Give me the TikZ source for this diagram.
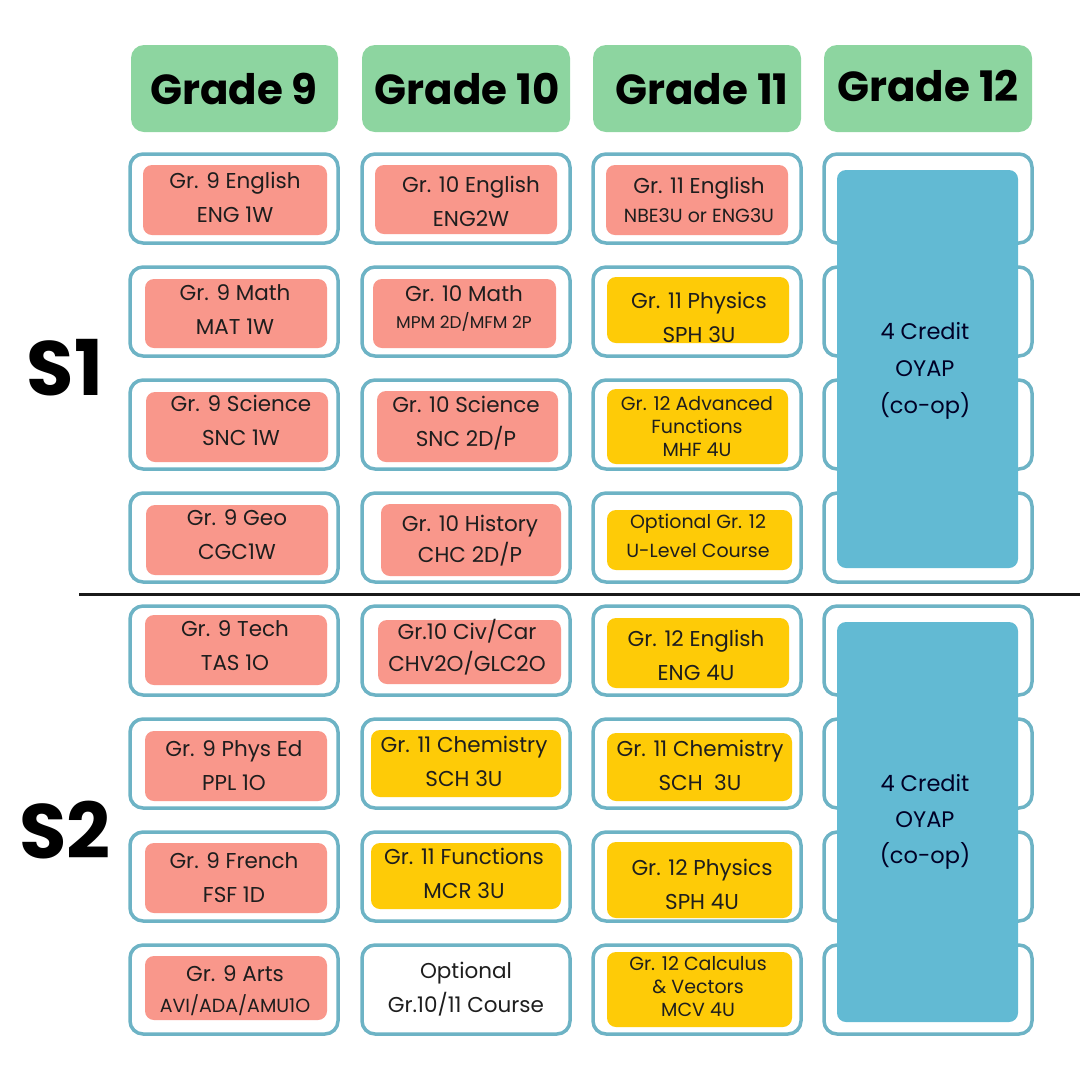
\documentclass[tikz,border=0pt]{standalone}
\usepackage{fontspec}
\setmainfont{Poppins}
\definecolor{headgreen}{HTML}{8DD5A0}
\definecolor{slotline}{HTML}{6DB3C5}
\definecolor{reqpink}{HTML}{F9978B}
\definecolor{advyellow}{HTML}{FECB07}
\definecolor{coopblue}{HTML}{62BAD3}
\definecolor{ink}{HTML}{1E1E1E}
\newcommand\coursefont{\fontsize{21.5}{34}\selectfont}
\newcommand\codefont{\fontsize{19}{26}\selectfont}
\newcommand\tinycode{\fontsize{17}{22}\selectfont}
\newcommand\threefont{\fontsize{19}{23}\selectfont}
\newcommand\headfont{\fontsize{42}{48}\selectfont\bfseries}
\newcommand\termfont{\fontsize{77}{80}\selectfont\bfseries}
\begin{document}
\begin{tikzpicture}[x=1pt, y=-1pt,
  slot/.style={draw=slotline, line width=3.5pt, fill=white, rounded corners=13pt},
  head/.style={fill=headgreen, rounded corners=13pt},
  req/.style={fill=reqpink, rounded corners=9pt},
  adv/.style={fill=advyellow, rounded corners=9pt},
  coop/.style={fill=coopblue, rounded corners=9pt},
  course/.style={align=center, font=\coursefont, text=ink, inner sep=0pt},
  three/.style={course, font=\threefont},
  headtext/.style={font=\headfont, text=black, inner sep=0pt},
  term/.style={font=\termfont, text=black, inner sep=0pt}]
\useasboundingbox (0,0) rectangle (1080,1080);

% Grade headers
\path[head] (131,45) rectangle +(207,87);
\node[headtext] (g9) at (234,89) {Grade 9};
\path[head] (362,45) rectangle +(208,87);
\node[headtext] (g10) at (467,89) {Grade 10};
\path[head] (593,45) rectangle +(208,87);
\node[headtext] (g11) at (702,89) {Grade 11};
\path[head] (824,45) rectangle +(208,87);
\node[headtext] (g12) at (928,86) {Grade 12};

% Semester labels and the line between them
\node[term] (s1) at (65,368) {S1};
\node[term] (s2) at (65,830) {S2};
\draw[line width=3pt, black!90] (79,594) -- (1080,594);

% Semester 1, row 1
\draw[slot] (130,154) rectangle +(208,89);
\path[req] (143,165) rectangle (327,235);
\node[course] (eng9) at (235,197) {Gr. 9 English\\ENG 1W};
\draw[slot] (362,154) rectangle +(208,89);
\path[req] (375,165) rectangle (557,234);
\node[course] (eng10) at (471,201) {Gr. 10 English\\ENG2W};
\draw[slot] (593,154) rectangle +(208,89);
\path[req] (606,165) rectangle (788,235);
\node[course] (eng11) at (699,200) {Gr. 11 English\\[-5pt]{\codefont NBE3U or ENG3U}};

% Semester 1, row 2
\draw[slot] (130,267) rectangle +(208,89);
\path[req] (145,279) rectangle (327,348);
\node[course] (mat9) at (235,310) {Gr. 9 Math\\MAT 1W};
\draw[slot] (362,267) rectangle +(208,89);
\path[req] (373,279) rectangle (556,348);
\node[course] (mat10) at (464,308) {Gr. 10 Math\\[-7pt]{\tinycode MPM 2D/MFM 2P}};
\draw[slot] (593,267) rectangle +(208,89);
\path[adv] (607,277) rectangle (789,343);
\node[course] (sph3) at (699,317) {Gr. 11 Physics\\SPH 3U};

% Semester 1, row 3
\draw[slot] (130,380) rectangle +(208,89);
\path[req] (146,392) rectangle (328,462);
\node[course] (snc9) at (241,420) {Gr. 9 Science\\SNC 1W};
\draw[slot] (362,380) rectangle +(208,89);
\path[req] (377,391) rectangle (558,462);
\node[course] (snc10) at (466,423) {Gr. 10 Science\\SNC 2D/P};
\draw[slot] (593,380) rectangle +(208,89);
\path[adv] (607,389) rectangle (788,464);
\node[three] (mhf4) at (697,427) {Gr. 12 Advanced\\Functions\\MHF 4U};

% Semester 1, row 4
\draw[slot] (130,493) rectangle +(208,89);
\path[req] (146,505) rectangle (328,575);
\node[course] (cgc9) at (237,535) {Gr. 9 Geo\\CGC1W};
\draw[slot] (362,493) rectangle +(208,89);
\path[req] (381,504) rectangle (561,576);
\node[course] (chc10) at (470,541) {Gr. 10 History\\[-3pt]CHC 2D/P};
\draw[slot] (593,493) rectangle +(208,89);
\path[adv] (607,510) rectangle (792,570);
\node[course, font=\codefont] (opt12) at (698,536) {Optional Gr. 12\\[3pt]U-Level Course};

% Grade 12, semester 1: co-op over the four slots
\draw[slot] (824,154) rectangle +(208,89);
\draw[slot] (824,267) rectangle +(208,89);
\draw[slot] (824,380) rectangle +(208,89);
\draw[slot] (824,493) rectangle +(208,89);
\path[coop] (837,170) rectangle (1018,568);
\node[course, font=\fontsize{22.5}{34}\selectfont, text=black!85!blue] (coop1) at (925,371) {4 Credit\\[3pt]OYAP\\[3pt](co-op)};

% Semester 2, row 5
\draw[slot] (130,606) rectangle +(208,89);
\path[req] (145,615) rectangle (327,685);
\node[course] (tas1) at (235,646) {Gr. 9 Tech\\TAS 1O};
\draw[slot] (362,606) rectangle +(208,89);
\path[req] (378,620) rectangle (561,684);
\node[course] (chv2) at (467,647) {Gr.10 Civ/Car\\[-2pt]CHV2O/GLC2O};
\draw[slot] (593,606) rectangle +(208,89);
\path[adv] (607,618) rectangle (789,688);
\node[course] (eng4) at (696,655) {Gr. 12 English\\ENG 4U};

% Semester 2, row 6
\draw[slot] (130,719) rectangle +(208,89);
\path[req] (145,731) rectangle (327,801);
\node[course] (ppl1) at (234,766) {Gr. 9 Phys Ed\\PPL 1O};
\draw[slot] (362,719) rectangle +(208,89);
\path[adv] (371,730) rectangle (561,797);
\node[course] (sch3a) at (464,761) {Gr. 11 Chemistry\\SCH 3U};
\draw[slot] (593,719) rectangle +(208,89);
\path[adv] (607,733) rectangle (792,801);
\node[course] (sch3b) at (700,765) {Gr. 11 Chemistry\\SCH~~3U};

% Semester 2, row 7
\draw[slot] (130,832) rectangle +(208,89);
\path[req] (145,843) rectangle (327,913);
\node[course] (fsf1) at (234,878) {Gr. 9 French\\FSF 1D};
\draw[slot] (362,832) rectangle +(208,89);
\path[adv] (371,843) rectangle (561,909);
\node[course] (mcr3) at (464,873) {Gr. 11 Functions\\MCR 3U};
\draw[slot] (593,832) rectangle +(208,89);
\path[adv] (607,842) rectangle (792,918);
\node[course] (sph4) at (702,884) {Gr. 12 Physics\\SPH 4U};

% Semester 2, row 8
\draw[slot] (130,945) rectangle +(208,89);
\path[req] (145,956) rectangle (327,1020);
\node[course] (avi1) at (235,991) {Gr. 9 Arts\\[-3pt]{\codefont AVI/ADA/AMU1O}};
\draw[slot] (362,945) rectangle +(208,89);
\node[course] (optx) at (466,989) {Optional\\Gr.10/11 Course};
\draw[slot] (593,945) rectangle +(208,89);
\path[adv] (607,952) rectangle (792,1027);
\node[three] (mcv4) at (698,987) {Gr. 12 Calculus\\\& Vectors\\MCV 4U};

% Grade 12, semester 2: co-op over the four slots
\draw[slot] (824,606) rectangle +(208,89);
\draw[slot] (824,719) rectangle +(208,89);
\draw[slot] (824,832) rectangle +(208,89);
\draw[slot] (824,945) rectangle +(208,89);
\path[coop] (837,622) rectangle (1018,1022);
\node[course, font=\fontsize{22.5}{34}\selectfont, text=black!85!blue] (coop2) at (925,822) {4 Credit\\[2pt]OYAP\\[2pt](co-op)};
\end{tikzpicture}
\end{document}
